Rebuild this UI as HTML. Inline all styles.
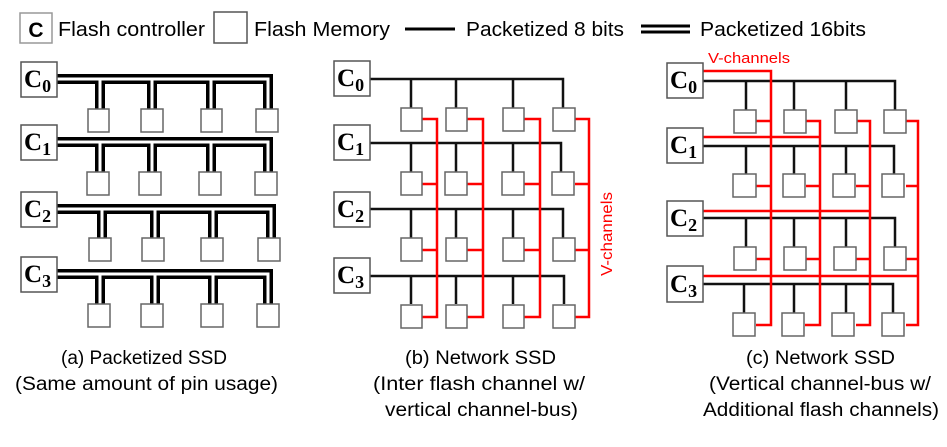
<!DOCTYPE html>
<html><head><meta charset="utf-8"><style>
html,body{margin:0;padding:0;background:#fff;}
svg{display:block;}
text{font-family:"Liberation Sans",sans-serif;}
.cl text{font-family:"Liberation Serif",serif;font-weight:bold;}
</style></head><body>
<svg width="947" height="447" viewBox="0 0 947 447" xmlns="http://www.w3.org/2000/svg">
<!-- Legend -->
<rect x="20" y="13" width="32" height="30" fill="#fff" stroke="#999" stroke-width="1.5"/>
<text x="36" y="37" text-anchor="middle" font-size="21" font-weight="bold">C</text>
<text x="58" y="36" font-size="20" textLength="147" lengthAdjust="spacingAndGlyphs">Flash controller</text>
<rect x="214" y="12" width="33" height="31" fill="#fff" stroke="#555" stroke-width="1.5"/>
<text x="254" y="36" font-size="20" textLength="136" lengthAdjust="spacingAndGlyphs">Flash Memory</text>
<line x1="405" y1="29" x2="455" y2="29" stroke="#000" stroke-width="3"/>
<text x="466" y="36" font-size="20" textLength="158" lengthAdjust="spacingAndGlyphs">Packetized 8 bits</text>
<line x1="641" y1="26" x2="690" y2="26" stroke="#000" stroke-width="3"/>
<line x1="641" y1="32" x2="690" y2="32" stroke="#000" stroke-width="3"/>
<text x="700" y="36" font-size="20" textLength="166" lengthAdjust="spacingAndGlyphs">Packetized 16bits</text>

<!-- Panel (a) -->
<g id="pa">
<g fill="none" stroke="#000" stroke-width="10" stroke-linejoin="miter">
<path d="M57 79 H268 V109 M100 79 V109 M152 79 V109 M211 79 V109"/>
<path d="M57 142 H268 V172 M100 142 V172 M152 142 V172 M211 142 V172"/>
<path d="M57 209 H271 V238 M102 209 V238 M155 209 V238 M213 209 V238"/>
<path d="M57 274 H268 V304 M100 274 V304 M155 274 V304 M213 274 V304"/>
</g>
<g fill="none" stroke="#fff" stroke-width="3" stroke-linejoin="miter">
<path d="M57 79 H268 V109 M100 79 V109 M152 79 V109 M211 79 V109"/>
<path d="M57 142 H268 V172 M100 142 V172 M152 142 V172 M211 142 V172"/>
<path d="M57 209 H271 V238 M102 209 V238 M155 209 V238 M213 209 V238"/>
<path d="M57 274 H268 V304 M100 274 V304 M155 274 V304 M213 274 V304"/>
</g>
<g fill="#fff" stroke="#666" stroke-width="1.5">
<rect x="88" y="109" width="21" height="23"/><rect x="141" y="109" width="22" height="23"/><rect x="201" y="109" width="21" height="23"/><rect x="256" y="109" width="22" height="23"/>
<rect x="87" y="172" width="22" height="23"/><rect x="139" y="172" width="22" height="23"/><rect x="199" y="172" width="22" height="23"/><rect x="255" y="172" width="22" height="23"/>
<rect x="89" y="238" width="22" height="23"/><rect x="142" y="238" width="22" height="23"/><rect x="201" y="238" width="22" height="23"/><rect x="258" y="238" width="22" height="23"/>
<rect x="88" y="304" width="22" height="23"/><rect x="141" y="304" width="22" height="23"/><rect x="201" y="304" width="22" height="23"/><rect x="257" y="304" width="22" height="23"/>
</g>
</g>

<!-- Panel (b) -->
<g fill="none" stroke="#111" stroke-width="2.5">
<path d="M370 79 H563 V108 M411 79 V108 M456 79 V108 M513 79 V108"/>
<path d="M370 143 H561 V172 M411 143 V172 M456 143 V172 M513 143 V172"/>
<path d="M370 209 H563 V238 M411 209 V238 M456 209 V238 M513 209 V238"/>
<path d="M370 276 H564 V304 M411 276 V304 M456 276 V304 M513 276 V304"/>
</g>
<g fill="none" stroke="#f00" stroke-width="2.5">
<path d="M422 119 H437 V317 H422 M422 184 H437 M422 250 H437"/>
<path d="M467 119 H483 V317 H467 M467 184 H483 M467 250 H483"/>
<path d="M524 119 H540 V317 H524 M524 184 H540 M524 250 H540"/>
<path d="M575 119 H589 V317 H575 M575 184 H589 M575 250 H589"/>
</g>
<g fill="#fff" stroke="#666" stroke-width="1.5">
<rect x="401" y="108" width="21" height="23"/><rect x="446" y="108" width="21" height="23"/><rect x="503" y="108" width="21" height="23"/><rect x="553" y="108" width="22" height="23"/>
<rect x="401" y="172" width="21" height="23"/><rect x="445" y="172" width="22" height="23"/><rect x="502" y="172" width="22" height="23"/><rect x="552" y="172" width="22" height="23"/>
<rect x="401" y="238" width="21" height="23"/><rect x="446" y="238" width="21" height="23"/><rect x="503" y="238" width="21" height="23"/><rect x="553" y="238" width="22" height="23"/>
<rect x="401" y="305" width="21" height="23"/><rect x="446" y="305" width="21" height="23"/><rect x="503" y="305" width="21" height="23"/><rect x="553" y="305" width="22" height="23"/>
</g>
<text transform="translate(612 234) rotate(-90)" text-anchor="middle" font-size="16" fill="#f00" textLength="84" lengthAdjust="spacingAndGlyphs">V-channels</text>

<!-- Panel (c) -->
<g fill="none" stroke="#111" stroke-width="2.5">
<path d="M703 81 H895 V110 M746 81 V110 M794 81 V110 M846 81 V110"/>
<path d="M703 146 H894 V174 M746 146 V174 M794 146 V174 M846 146 V174"/>
<path d="M703 218 H895 V248 M746 218 V248 M794 218 V248 M846 218 V248"/>
<path d="M703 284 H893 V313 M744 284 V313 M794 284 V313 M846 284 V313"/>
</g>
<g fill="none" stroke="#f00" stroke-width="2.5">
<path d="M703 71 H771 V325 H756 M756 121 H771 M756 186 H771 M756 259 H771"/>
<path d="M703 137 H820 V121 H802 M820 121 V325 H805 M806 186 H820 M806 259 H820"/>
<path d="M703 211 H870 M856 121 H870 V325 H856 M856 186 H870 M856 259 H870"/>
<path d="M703 276 H918 M906 121 H918 V325 H906 M906 186 H918 M906 259 H918"/>
</g>
<g fill="#fff" stroke="#666" stroke-width="1.5">
<rect x="734" y="110" width="22" height="23"/><rect x="784" y="110" width="22" height="23"/><rect x="835" y="110" width="22" height="23"/><rect x="884" y="110" width="22" height="23"/>
<rect x="733" y="174" width="23" height="23"/><rect x="783" y="174" width="22" height="23"/><rect x="833" y="174" width="22" height="23"/><rect x="882" y="174" width="22" height="23"/>
<rect x="734" y="247" width="22" height="23"/><rect x="784" y="247" width="22" height="23"/><rect x="834" y="247" width="22" height="23"/><rect x="884" y="247" width="22" height="23"/>
<rect x="733" y="313" width="22" height="23"/><rect x="782" y="313" width="22" height="23"/><rect x="832" y="313" width="22" height="23"/><rect x="882" y="313" width="22" height="23"/>
</g>
<text x="708" y="63" font-size="15" fill="#f00" textLength="82" lengthAdjust="spacingAndGlyphs">V-channels</text>

<!-- Controllers -->
<g fill="#fff" stroke="#555" stroke-width="1.5">
<rect x="21" y="62" width="36" height="35"/><rect x="21" y="125" width="36" height="35"/><rect x="21" y="192" width="36" height="35"/><rect x="21" y="257" width="36" height="35"/>
<rect x="334" y="61" width="36" height="35"/><rect x="334" y="125" width="36" height="35"/><rect x="334" y="192" width="36" height="35"/><rect x="334" y="258" width="36" height="35"/>
<rect x="667" y="63" width="36" height="35"/><rect x="667" y="128" width="36" height="35"/><rect x="667" y="201" width="36" height="35"/><rect x="667" y="266" width="36" height="36"/>
</g>
<g class="cl" font-size="25" fill="#000">
<text x="24" y="87">C<tspan font-size="18" dy="5">0</tspan></text>
<text x="24" y="150">C<tspan font-size="18" dy="5">1</tspan></text>
<text x="24" y="217">C<tspan font-size="18" dy="5">2</tspan></text>
<text x="24" y="282">C<tspan font-size="18" dy="5">3</tspan></text>
<text x="337" y="86">C<tspan font-size="18" dy="5">0</tspan></text>
<text x="337" y="150">C<tspan font-size="18" dy="5">1</tspan></text>
<text x="337" y="217">C<tspan font-size="18" dy="5">2</tspan></text>
<text x="337" y="283">C<tspan font-size="18" dy="5">3</tspan></text>
<text x="670" y="88">C<tspan font-size="18" dy="5">0</tspan></text>
<text x="670" y="153">C<tspan font-size="18" dy="5">1</tspan></text>
<text x="670" y="226">C<tspan font-size="18" dy="5">2</tspan></text>
<text x="670" y="292">C<tspan font-size="18" dy="5">3</tspan></text>
</g>

<!-- Captions -->
<g font-size="19" fill="#000">
<text x="61" y="364" textLength="166" lengthAdjust="spacingAndGlyphs">(a) Packetized SSD</text>
<text x="15" y="390" textLength="263" lengthAdjust="spacingAndGlyphs">(Same amount of pin usage)</text>
<text x="405" y="364" textLength="151" lengthAdjust="spacingAndGlyphs">(b) Network SSD</text>
<text x="373" y="390" textLength="212" lengthAdjust="spacingAndGlyphs">(Inter flash channel w/</text>
<text x="385" y="416" textLength="193" lengthAdjust="spacingAndGlyphs">vertical channel-bus)</text>
<text x="746" y="364" textLength="149" lengthAdjust="spacingAndGlyphs">(c) Network SSD</text>
<text x="709" y="390" textLength="222" lengthAdjust="spacingAndGlyphs">(Vertical channel-bus w/</text>
<text x="703" y="416" textLength="236" lengthAdjust="spacingAndGlyphs">Additional flash channels)</text>
</g>
</svg>
</body></html>
